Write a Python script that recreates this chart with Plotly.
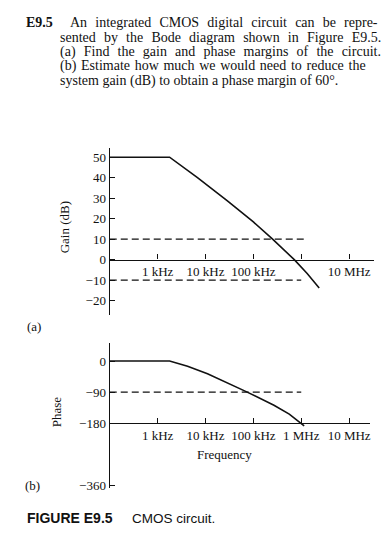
import plotly.graph_objects as go
import math

# ---------------- data ----------------
gain_freq_hz = [100, 1780, 6800, 28700, 100000, 249000, 715000, 1330000, 2370000]
gain_db = [50, 50, 40.0, 28.7, 18.4, 10.1, 0, -6.8, -13.8]

phase_freq_hz = [100, 1780, 4220, 11000, 69000, 269000, 562000, 1000000, 1150000]
phase_deg = [0, 0, -15, -37, -87.7, -127.7, -153.3, -179.6, -187.7]

gain_ref_db = [10, -10]          # dashed reference levels (gain)
phase_ref_deg = -90              # dashed reference level (phase)
crossover_hz = 1e6               # phase = -180 frequency

freq_tickvals = [1e3, 1e4, 1e5, 1e6, 1e7]
gain_freq_ticktext = ["1 kHz", "10 kHz", "100 kHz", "", "10 MHz"]
phase_freq_ticktext = ["1 kHz", "10 kHz", "100 kHz", "1 MHz", "10 MHz"]
gain_tickvals = [50, 40, 30, 20, 10, 0, -10, -20]
gain_ticktext = ["50", "40", "30", "20", "10", "0", "\u221210", "\u221220"]
phase_tickvals = [0, -90, -180, -360]
phase_ticktext = ["0", "\u221290", "\u2212180", "\u2212360"]

header_lines = [
    "An integrated CMOS digital circuit can be repre-",
    "sented by the Bode diagram shown in Figure E9.5.",
    "(a) Find the gain and phase margins of the circuit.",
    "(b) Estimate how much we would need to reduce the",
    "system gain (dB) to obtain a phase margin of 60\u00b0.",
]

# ---------------- layout helpers ----------------
W, H = 392, 537
def fx(p):
    return p / W
def fy(p):
    return 1 - p / H

SERIF = "Liberation Serif"
SANS = "Liberation Sans"
INK = "#111111"

gain_dom = [fy(310), fy(142)]
gain_rng = [-26.8, 54.3]
phase_dom = [fy(485), fy(339)]
phase_rng = [-365.7, 51.4]

def to_paper(v, dom, rng):
    return dom[0] + (v - rng[0]) / (rng[1] - rng[0]) * (dom[1] - dom[0])

fig = go.Figure()

fig.add_trace(go.Scatter(x=gain_freq_hz, y=gain_db, mode="lines",
                         line=dict(color=INK, width=1.6), xaxis="x", yaxis="y",
                         hoverinfo="skip"))
fig.add_trace(go.Scatter(x=phase_freq_hz, y=phase_deg, mode="lines",
                         line=dict(color=INK, width=1.6), xaxis="x2", yaxis="y2",
                         hoverinfo="skip"))

dash = "7px,4px"
gx, gy = [], []
for lvl in gain_ref_db:
    end = crossover_hz * (1.2 if lvl > 0 else 1.0)
    gx += [gain_freq_hz[0], end, None]
    gy += [lvl, lvl, None]
fig.add_trace(go.Scatter(x=gx, y=gy, mode="lines",
                         line=dict(color=INK, width=1.2, dash=dash),
                         xaxis="x", yaxis="y", hoverinfo="skip"))
fig.add_trace(go.Scatter(x=[phase_freq_hz[0], crossover_hz], y=[phase_ref_deg] * 2,
                         mode="lines", line=dict(color=INK, width=1.2, dash=dash),
                         xaxis="x2", yaxis="y2", hoverinfo="skip"))

fig.add_shape(type="line", xref="x", yref="paper",
              x0=math.log10(crossover_hz), x1=math.log10(crossover_hz),
              y0=to_paper(-180, phase_dom, phase_rng),
              y1=to_paper(min(gain_ref_db), gain_dom, gain_rng),
              line=dict(color=INK, width=1.2, dash="6px,4px"))

tickfont = dict(family=SERIF, size=13, color=INK)
common_x = dict(type="log", showline=True, linecolor=INK, linewidth=1.4,
                ticks="inside", ticklen=5, tickwidth=1, tickcolor=INK,
                tickvals=freq_tickvals, showgrid=False, zeroline=False,
                tickfont=tickfont, anchor="free", fixedrange=True)
common_y = dict(showline=True, linecolor=INK, linewidth=1.4, ticks="inside",
                ticklen=5, tickwidth=1, tickcolor=INK, showgrid=False,
                zeroline=False, tickfont=tickfont, fixedrange=True)

fig.update_layout(
    width=W, height=H, margin=dict(l=0, r=0, t=0, b=0),
    paper_bgcolor="white", plot_bgcolor="rgba(0,0,0,0)", showlegend=False,
    xaxis=dict(common_x, domain=[fx(102), fx(367)], range=[2.0, 7.521],
               position=to_paper(0, gain_dom, gain_rng),
               ticktext=gain_freq_ticktext),
    yaxis=dict(common_y, domain=gain_dom, range=gain_rng, anchor="x",
               tickvals=gain_tickvals, ticktext=gain_ticktext),
    xaxis2=dict(common_x, domain=[fx(102), fx(363)], range=[2.0, 7.4375],
                position=to_paper(-180, phase_dom, phase_rng),
                ticktext=phase_freq_ticktext),
    yaxis2=dict(common_y, domain=phase_dom, range=phase_rng, anchor="x2",
                tickvals=phase_tickvals, ticktext=phase_ticktext),
)

def ann(text, x, y, size=13, family=SERIF, xanchor="center", angle=0, yanchor="middle"):
    fig.add_annotation(text=text, x=fx(x), y=fy(y), xref="paper", yref="paper",
                       showarrow=False, xanchor=xanchor, yanchor=yanchor,
                       textangle=angle, font=dict(family=family, size=size, color=INK))

# header, with widened word gaps to imitate the justified setting
wide_gap = " \u00a0\u200a"
narrow_gap = " \u200a"
gaps = [wide_gap, wide_gap, wide_gap, narrow_gap, " "]
starts = [60, 50, 50, 50, 50]
ann("<b>E9.5</b>", 16, 15, size=14, xanchor="left")
for i, line in enumerate(header_lines):
    ann(gaps[i].join(line.split(" ")), starts[i], 15 + 14.6 * i, size=14, xanchor="left")

ann("Gain (dB)", 57, 222, angle=-90)
ann("Phase", 49, 408, angle=-90)
ann("Frequency", 217, 452)
ann("(a)", 26, 322)
ann("(b)", 25, 483)

ann("<b>FIGURE E9.5</b>", 17, 516, size=14, family=SANS, xanchor="left")
ann("CMOS circuit.", 122, 516, size=13.5, family=SANS, xanchor="left")

fig.write_html("out.html")
